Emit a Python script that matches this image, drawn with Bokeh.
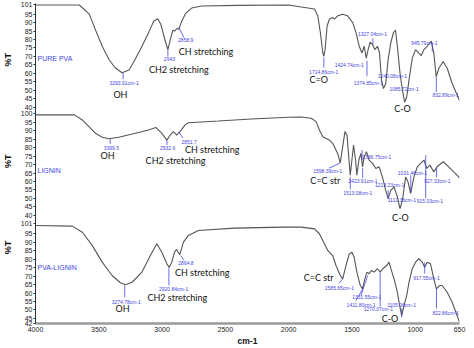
from bokeh.plotting import figure
from bokeh.models import Range1d, FixedTicker, LinearAxis, ColumnDataSource
from bokeh.core.properties import value
from bokeh.embed import file_html
from bokeh.resources import INLINE

# ---------------- data ----------------
x_ticks = [4000, 3500, 3000, 2500, 2000, 1500, 1000, 650]
pva_yticks = [40, 45, 50, 55, 60, 65, 70, 75, 80, 85, 90, 95, 101]
lig_yticks = [40, 45, 50, 55, 60, 65, 70, 75, 80, 85, 90, 95, 100]
blend_yticks = [42, 45, 50, 55, 60, 65, 70, 75, 80, 85, 90, 95, 101]

sample_names = ["PURE PVA", "LIGNIN", "PVA-LIGNIN"]

# PURE PVA spectrum (wavenumber cm-1, %T)
pva_wn = [4000, 3654, 3575, 3528, 3473, 3418, 3371, 3316, 3261, 3214, 3159, 3104, 3065, 3035,
          3010, 2978, 2954, 2931, 2915, 2900, 2884, 2868, 2844, 2813, 2766, 2687, 2400, 2000,
          1901, 1796, 1770, 1749, 1730, 1722, 1712, 1696, 1678, 1651, 1639, 1612, 1573, 1534,
          1494, 1468, 1442, 1421, 1403, 1387, 1372, 1356, 1337, 1319, 1298, 1282, 1266, 1251,
          1233, 1214, 1193, 1172, 1156, 1141, 1120, 1101, 1083, 1067, 1049, 1023, 997, 971,
          952, 931, 905, 873, 853, 834, 813, 779, 747, 708, 656, 650]
pva_t = [100.4, 100.4, 95, 86, 76, 68, 63.3, 60.3, 62, 68, 76, 84.5, 91, 92.3,
         89, 80, 74, 81, 85.5, 85, 86.5, 86, 91, 95.6, 98.6, 99.8, 100.2, 100.4,
         99.2, 98.0, 94, 84, 72, 70, 74, 88, 92, 93, 92, 94, 95, 94,
         90, 84.2, 76, 72, 76, 69, 74, 78.5, 77, 74, 76, 72, 56, 51,
         54, 68, 78, 84, 85.6, 76, 60, 50, 43, 46, 56, 69, 74, 72,
         70.5, 74, 76, 79, 72, 58, 63, 67, 63, 54, 45, 44]

# LIGNIN spectrum
lig_wn = [4000, 3693, 3630, 3578, 3526, 3473, 3420, 3342, 3211, 3106, 3050, 3002, 2962, 2936,
          2910, 2884, 2858, 2818, 2792, 2556, 2294, 2000, 1901, 1822, 1783, 1757, 1730, 1704,
          1678, 1652, 1613, 1592, 1573, 1555, 1539, 1521, 1513, 1500, 1487, 1471, 1461, 1445,
          1429, 1416, 1403, 1385, 1364, 1337, 1311, 1285, 1259, 1233, 1214, 1193, 1167, 1141,
          1120, 1101, 1075, 1057, 1036, 1010, 983, 957, 931, 909, 884, 853, 827, 779, 735,
          696, 656, 650]
lig_t = [99.4, 99.4, 96.4, 92.5, 88.5, 86.2, 85.3, 86.2, 88.5, 90.5, 92, 88.5, 84.5, 87.5,
         89.5, 87.5, 89.5, 93.5, 94.8, 95.8, 97.0, 98.0, 98.2, 97.4, 95.4, 90.5, 86.5, 85.5,
         84.5, 82.6, 76.6, 71, 80.6, 89.5, 87.5, 70.7, 63.8, 72.7, 81.6, 72.7, 63.8, 72.7,
         76.6, 68.7, 74.7, 77.6, 72.7, 70.7, 67.7, 68.7, 62.7, 54.8, 49.9, 54.8, 56.8, 50.9,
         44, 48.9, 62.7, 59.8, 52.9, 62.7, 68.7, 70.7, 72.7, 67.7, 69.7, 65.7, 68.7, 71.7, 68.7,
         65.7, 62.7, 62]

# PVA-LIGNIN spectrum
blend_wn = [4000, 3709, 3630, 3552, 3473, 3395, 3329, 3290, 3237, 3159, 3080, 3041, 3002, 2962,
            2944, 2923, 2902, 2885, 2860, 2831, 2792, 2713, 2428, 2034, 1901, 1796, 1757, 1717,
            1691, 1652, 1626, 1592, 1573, 1547, 1521, 1500, 1482, 1461, 1434, 1416, 1398, 1382,
            1364, 1345, 1324, 1298, 1277, 1251, 1225, 1207, 1188, 1167, 1141, 1123, 1107, 1088,
            1067, 1049, 1023, 997, 971, 944, 926, 905, 879, 853, 832, 806, 787, 747, 708, 669, 650]
blend_t = [100.0, 99.6, 96.0, 88.2, 78.3, 70.4, 66.1, 64.9, 66.4, 72.4, 84.0, 89.2, 84.2, 77.3,
           75.3, 78.3, 84.2, 85.8, 82.7, 90.1, 94.1, 97.0, 98.4, 99.0, 99.0, 98.0, 95.1, 89.2,
           85.2, 82.2, 76.3, 70.4, 68.4, 76.3, 83.2, 84.2, 81.2, 72.4, 64.5, 62.5, 68.4, 72.4,
           71.4, 73.4, 72.4, 74.4, 72.4, 74.7, 76.3, 78.3, 73.4, 68.4, 60.5, 52.7, 46.7, 52.7,
           58.6, 66.4, 74.4, 78.3, 80.3, 78.3, 75.3, 78.3, 77.3, 68.4, 62.5, 64.5, 64.5, 60.5, 54.6, 46.7, 42.8]

# Peak labels (blue): text, wavenumber, %T of label centre
pva_peak_text = ["3293.91cm-1", "2943", "2858.9", "1714.86cm-1", "1424.74cm-1", "1374.85cm-1",
                 "1327.04cm-1", "1240.08cm-1", "1085.72cm-1", "945.79cm-1", "832.89cm-1"]
pva_peak_wn = [3300, 2942, 2813, 1723, 1521, 1370, 1337, 1180, 1088, 928, 760]
pva_peak_t = [54.4, 68.7, 79.5, 61.0, 65.1, 54.2, 83.1, 58.5, 50.6, 78.1, 47.2]
pva_lead_wn0 = [3308, 2954, 2868, 1722, 1381, 1334, 865, 833]
pva_lead_t0 = [60.3, 74.0, 87.2, 69.3, 67.3, 80.7, 77.0, 57.9]
pva_lead_wn1 = [3308, 2954, 2828, 1722, 1381, 1334, 865, 833]
pva_lead_t1 = [56.5, 69.9, 81.3, 63.3, 58.3, 77.1, 72.9, 49.0]
pva_group_text = ["OH", "CH2 stretching", "CH stretching", "C=O", "C-O"]
pva_group_wn = [3329, 2868, 2653, 1763, 1101]
pva_group_t = [47.6, 62.1, 72.7, 56.1, 39.2]

lig_peak_text = ["3399.5", "2932.6", "2851.7", "1598.39cm-1", "1513.08cm-1", "1423.91cm-1",
                 "1336.75cm-1", "1213.23cm-1", "1112.36cm-1", "1031.46cm-1", "915.03cm-1", "827.33cm-1"]
lig_peak_wn = [3401, 2956, 2787, 1691, 1454, 1413, 1304, 1202, 1105, 1022, 884, 825]
lig_peak_t = [80.0, 79.6, 83.5, 66.3, 53.2, 60.2, 74.6, 57.8, 48.9, 64.8, 48.5, 60.4]
lig_lead_wn0 = [3410, 2962, 2868, 1594, 1513, 1415, 1420, 1214, 1035, 917, 831]
lig_lead_t0 = [85.1, 84.6, 89.5, 70.9, 62.6, 67.9, 78.6, 54.8, 63.8, 75.6, 68.5]
lig_lead_wn1 = [3410, 2962, 2836, 1680, 1513, 1415, 1420, 1214, 1035, 917, 831]
lig_lead_t1 = [82.2, 81.6, 85.7, 67.9, 55.4, 62.0, 72.7, 50.1, 53.7, 50.1, 62.6]
lig_group_text = ["OH", "CH2 stretching", "CH stretching", "C=C str", "C-O"]
lig_group_wn = [3430, 2894, 2604, 1710, 1117]
lig_group_t = [75.2, 72.7, 79.2, 60.4, 38.6]

blend_peak_text = ["3274.78cm-1", "2920.84cm-1", "2864.8", "1585.65cm-1", "1411.80cm-1",
                   "1331.55cm-1", "1270.07cm-1", "1105.06cm-1", "917.55cm-1", "822.86cm-1"]
blend_peak_wn = [3283, 2909, 2811, 1599, 1428, 1383, 1291, 1108, 911, 760]
blend_peak_t = [55.0, 62.5, 77.9, 62.9, 53.1, 57.6, 50.3, 52.7, 69.0, 48.3]
blend_lead_wn0 = [3295, 2946, 2852, 1573, 1415, 1376, 1277, 1106, 925, 832]
blend_lead_t0 = [64.5, 75.1, 82.2, 68.4, 62.5, 70.4, 72.2, 50.9, 78.1, 62.7]
blend_lead_wn1 = [3295, 2946, 2828, 1602, 1468, 1428, 1277, 1106, 925, 832]
blend_lead_t1 = [57.4, 64.5, 79.3, 65.7, 55.6, 58.6, 52.1, 45.6, 71.6, 50.9]
blend_group_text = ["OH", "CH2 stretching", "CH stretching", "C=C str", "C-O"]
blend_group_wn = [3312, 2880, 2683, 1763, 1199]
blend_group_t = [51.1, 57.4, 72.4, 69.4, 45.1]

# sample name label position (wavenumber, %T)
name_wn = [3984, 3984, 3984]
name_t = [68.7, 66.3, 75.3]
# %T axis title position in each panel (%T value)
ylabel_t = [68, 72, 87]

# ---------------- layout constants ----------------
offsets = [130, 66, 0]          # vertical stacking of the three panels
BLUE = "#4545e0"
LINE = "#555555"
DARK = "#111111"

spectra = [(pva_wn, pva_t), (lig_wn, lig_t), (blend_wn, blend_t)]
peaks = [(pva_peak_text, pva_peak_wn, pva_peak_t), (lig_peak_text, lig_peak_wn, lig_peak_t),
         (blend_peak_text, blend_peak_wn, blend_peak_t)]
leads = [(pva_lead_wn0, pva_lead_t0, pva_lead_wn1, pva_lead_t1),
         (lig_lead_wn0, lig_lead_t0, lig_lead_wn1, lig_lead_t1),
         (blend_lead_wn0, blend_lead_t0, blend_lead_wn1, blend_lead_t1)]
groups = [(pva_group_text, pva_group_wn, pva_group_t), (lig_group_text, lig_group_wn, lig_group_t),
          (blend_group_text, blend_group_wn, blend_group_t)]
yticks = [pva_yticks, lig_yticks, blend_yticks]

p = figure(width=474, height=348, x_range=Range1d(4000, 650), y_range=Range1d(42, 231.3),
           output_backend="svg", toolbar_location=None,
           min_border_left=33, min_border_right=15, min_border_top=3, min_border_bottom=25)
p.outline_line_color = None
p.grid.visible = False
p.background_fill_color = "white"

tick_pos = []
overrides = {}
title_pos = []
title_over = {}
for k in range(3):
    off = offsets[k]
    wn, t = spectra[k]
    p.line(wn, [v + off for v in t], line_color=LINE, line_width=1.1)
    for v in yticks[k]:
        tick_pos.append(v + off)
        overrides[v + off] = str(v)
    title_pos.append(ylabel_t[k] + off)
    title_over[ylabel_t[k] + off] = "%T"

    a0, b0, a1, b1 = leads[k]
    p.segment(x0=a0, y0=[v + off for v in b0], x1=a1, y1=[v + off for v in b1],
              line_color=BLUE, line_width=0.8)

    txt, pw, pt = peaks[k]
    src = ColumnDataSource(dict(x=pw, y=[v + off for v in pt], text=txt))
    p.text(x="x", y="y", text="text", source=src, text_font=value("Liberation Sans"),
           text_font_size="5px", text_color=BLUE, text_align="center", text_baseline="middle")

    gt, gw, gv = groups[k]
    src2 = ColumnDataSource(dict(x=gw, y=[v + off for v in gv], text=gt))
    p.text(x="x", y="y", text="text", source=src2, text_font=value("Lato"),
           text_font_size="9px", text_color=DARK, text_align="center", text_baseline="middle")

    p.text(x=[name_wn[k]], y=[name_t[k] + off], text=[sample_names[k]],
           text_font=value("Liberation Sans"), text_font_size="7px", text_color=BLUE,
           text_align="left", text_baseline="middle")

ya = p.yaxis[0]
ya.ticker = FixedTicker(ticks=tick_pos)
ya.major_label_overrides = overrides
ya.major_label_text_font = "Liberation Sans"
ya.major_label_text_font_size = "7px"
ya.major_label_text_color = "#222222"
ya.major_label_standoff = 1
ya.major_tick_out = 2
ya.major_tick_in = 0
ya.minor_tick_line_color = None
ya.axis_line_color = "#333333"
ya.major_tick_line_color = "#333333"

# second (outer) left axis carrying the three "%T" titles
ta = LinearAxis(ticker=FixedTicker(ticks=title_pos), major_label_overrides=title_over,
                axis_line_color=None, major_tick_line_color=None, minor_tick_line_color=None,
                major_tick_out=0, major_tick_in=0, major_label_standoff=4,
                major_label_orientation="vertical",
                major_label_text_font="Liberation Sans", major_label_text_font_size="9px",
                major_label_text_font_style="bold", major_label_text_color=DARK)
p.add_layout(ta, "left")

xa = p.xaxis[0]
xa.ticker = FixedTicker(ticks=x_ticks)
xa.major_label_text_font = "Liberation Sans"
xa.major_label_text_font_size = "7px"
xa.major_label_text_color = "#222222"
xa.major_label_standoff = 3
xa.major_tick_out = 0
xa.major_tick_in = 0
xa.minor_tick_line_color = None
xa.axis_line_color = "#9a9a9a"
xa.axis_line_width = 2.5
xa.axis_label = "cm-1"
xa.axis_label_text_font = "Liberation Sans"
xa.axis_label_text_font_size = "8.5px"
xa.axis_label_text_font_style = "bold"
xa.axis_label_text_color = DARK
xa.axis_label_standoff = 1

open("out.html", "w").write(file_html(p, INLINE))
